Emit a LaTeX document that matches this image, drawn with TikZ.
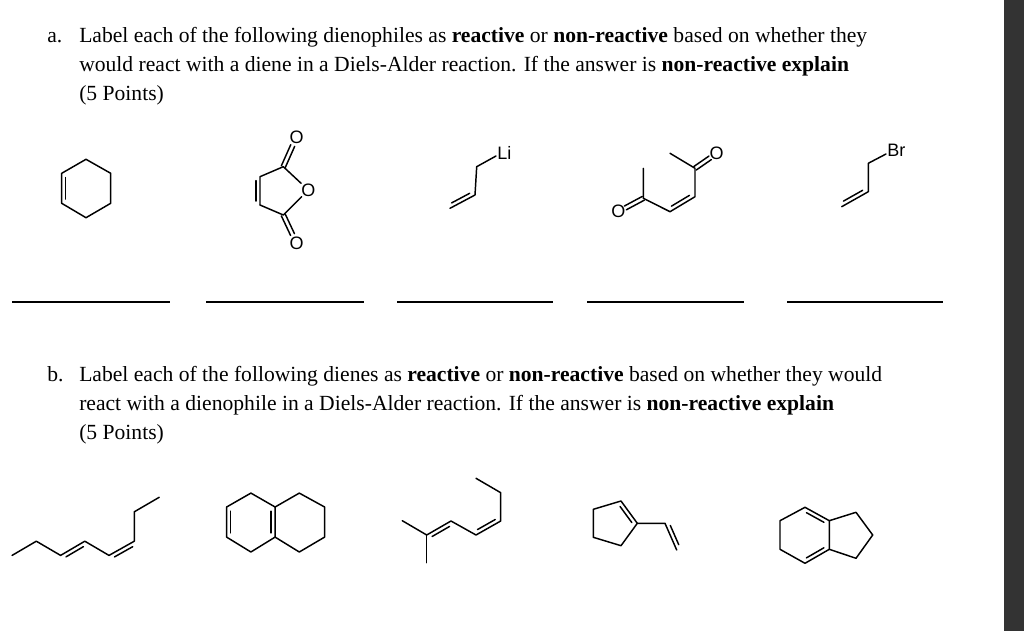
\documentclass[tikz,border=0pt]{standalone}
\usepackage{fontspec}
\setmainfont{Liberation Serif}
\newfontfamily\molfont{Liberation Sans}
\usetikzlibrary{calc}
\begin{document}
\begin{tikzpicture}[x=0.75pt,y=-0.75pt,
  bond/.style={line width=1.1pt,line cap=round,line join=round},
  para/.style={font=\fontsize{16.2pt}{21.75pt}\selectfont,anchor=base west,inner sep=0pt,align=left},
  atom/.style={font=\molfont\fontsize{13.5pt}{15pt}\selectfont,inner sep=0pt},
  blank/.style={line width=0.9pt}]
\useasboundingbox (0,0) rectangle (1024,631);
\fill[white] (0,0) rectangle (1024,631);
\fill[black!80] (1004,0) rectangle (1024,631);
\newcommand\inb[3]{\draw[bond] ($(#1)!0.14!(#2)!3pt!#3:(#2)$) -- ($(#2)!0.14!(#1)!3pt!-#3:(#1)$);}
% --- text a
\node[para] (la) at (47,43) {a.};
\node[para] (ta1) at (79,43) {Label each of the following dienophiles as \textbf{reactive} or \textbf{non-reactive} based on whether they};
\node[para] (ta2) at (79,72) {would react with a diene in a Diels-Alder reaction. If the answer is \textbf{non-reactive explain}};
\node[para] (ta3) at (79,101) {(5 Points)};
% --- cyclohexene
\coordinate (h1) at (61.7,173.3); \coordinate (h2) at (86,159.3); \coordinate (h3) at (110.7,173.3);
\coordinate (h4) at (110.7,203.3); \coordinate (h5) at (86,217.7); \coordinate (h6) at (61.7,203.3);
\draw[bond] (h1)--(h2)--(h3)--(h4)--(h5)--(h6)--cycle;
\inb{h1}{h6}{90}
% --- maleic anhydride
\coordinate (m1) at (283.3,166.7); \coordinate (mo) at (308.3,190); \coordinate (m2) at (283.3,215);
\coordinate (ma) at (260,176.7); \coordinate (mb) at (260,205);
\coordinate (mot) at (296.5,137); \coordinate (mob) at (296.5,243);
\node[atom] (Oring) at (mo) {O};
\node[atom] (Otop) at (mot) {O};
\node[atom] (Obot) at (mob) {O};
\draw[bond] (mb)--(ma)--(m1);
\draw[bond] (m1)--(Oring); \draw[bond] (Oring)--(m2)--(mb);
\inb{ma}{mb}{-90}
\draw[bond,shorten >=7pt] ($(m1)!1.6pt!90:(mot)$) -- ($(mot)!1.6pt!-90:(m1)$);
\draw[bond,shorten >=7pt] ($(m1)!1.6pt!-90:(mot)$) -- ($(mot)!1.6pt!90:(m1)$);
\draw[bond,shorten >=7pt] ($(m2)!1.6pt!90:(mob)$) -- ($(mob)!1.6pt!-90:(m2)$);
\draw[bond,shorten >=7pt] ($(m2)!1.6pt!-90:(mob)$) -- ($(mob)!1.6pt!90:(m2)$);
% --- allyl lithium
\coordinate (l1) at (450,208.3); \coordinate (l2) at (475,195); \coordinate (l3) at (476.7,166.7); \coordinate (l4) at (496,156);
\node[atom,anchor=west] (Li) at (497,153) {Li};
\draw[bond] (l1)--(l2)--(l3)--(l4);
\inb{l1}{l2}{90}
% --- enedione
\coordinate (e0) at (618.3,211.7); \coordinate (e1) at (643.3,198.3); \coordinate (e1m) at (643.3,168.3);
\coordinate (e2) at (670,211.7); \coordinate (e3) at (695,196.7); \coordinate (e4) at (695,168.3);
\coordinate (e4m) at (670,153.3); \coordinate (e5) at (716.7,153.3);
\node[atom] (OL) at (e0) {O}; \node[atom] (OR) at (e5) {O};
\draw[bond] (e1m)--(e1)--(e2)--(e3)--(e4)--(e4m);
\inb{e2}{e3}{90}
\draw[bond,shorten >=6pt] ($(e1)!1.6pt!90:(e0)$) -- ($(e0)!1.6pt!-90:(e1)$);
\draw[bond,shorten >=6pt] ($(e1)!1.6pt!-90:(e0)$) -- ($(e0)!1.6pt!90:(e1)$);
\draw[bond,shorten >=6pt] ($(e4)!1.6pt!90:(e5)$) -- ($(e5)!1.6pt!-90:(e4)$);
\draw[bond,shorten >=6pt] ($(e4)!1.6pt!-90:(e5)$) -- ($(e5)!1.6pt!90:(e4)$);
% --- allyl bromide
\coordinate (b1) at (841.7,206.7); \coordinate (b2) at (868.3,191.7); \coordinate (b3) at (868.3,163.3); \coordinate (b4) at (886,154);
\node[atom,anchor=west] (Br) at (887,150) {Br};
\draw[bond] (b1)--(b2)--(b3)--(b4);
\inb{b1}{b2}{90}
% --- blanks
\foreach \a/\b [count=\i] in {12/170,206/364,397/553,587/744,787/943}{
  \coordinate (bl\i a) at (\a,302); \coordinate (bl\i b) at (\b,302);
  \draw[blank] (bl\i a) -- (bl\i b);}
% --- text b
\node[para] (lb) at (47,381) {b.};
\node[para] (tb1) at (79,381) {Label each of the following dienes as \textbf{reactive} or \textbf{non-reactive} based on whether they would};
\node[para] (tb2) at (79,410) {react with a dienophile in a Diels-Alder reaction. If the answer is \textbf{non-reactive explain}};
\node[para] (tb3) at (79,439) {(5 Points)};
% --- octadiene
\coordinate (o1) at (12.1,555.4); \coordinate (o2) at (36.3,541.2); \coordinate (o3) at (60.6,555.4);
\coordinate (o4) at (84.8,541.2); \coordinate (o5) at (109,555.4); \coordinate (o6) at (134.3,541.2);
\coordinate (o7) at (134.3,511.8); \coordinate (o8) at (159.2,497.3);
\draw[bond] (o1)--(o2)--(o3)--(o4)--(o5)--(o6)--(o7)--(o8);
\inb{o3}{o4}{-90} \inb{o5}{o6}{-90}
% --- hexahydronaphthalene
\coordinate (n1) at (226.6,507); \coordinate (n2) at (250.9,493.1); \coordinate (n3) at (275.1,507);
\coordinate (n4) at (275.1,537.1); \coordinate (n5) at (250.9,552); \coordinate (n6) at (226.6,537.1);
\coordinate (n7) at (299.3,493.1); \coordinate (n8) at (324.6,507); \coordinate (n9) at (324.6,537.1); \coordinate (n10) at (299.3,552);
\draw[bond] (n1)--(n2)--(n3)--(n4)--(n5)--(n6)--cycle;
\draw[bond] (n3)--(n7)--(n8)--(n9)--(n10)--(n4);
\inb{n1}{n6}{90} \inb{n3}{n4}{-90}
% --- methylheptadiene
\coordinate (p1) at (402.3,520.7); \coordinate (p2) at (426.7,535); \coordinate (p2m) at (426.7,562.7);
\coordinate (p3) at (451,521); \coordinate (p4) at (476,535); \coordinate (p5) at (500.7,521);
\coordinate (p6) at (500.7,492.7); \coordinate (p7) at (476,478.3);
\draw[bond] (p1)--(p2)--(p3)--(p4)--(p5)--(p6)--(p7); \draw[bond] (p2)--(p2m);
\inb{p2}{p3}{-90} \inb{p4}{p5}{90}
% --- vinylcyclopentene
\coordinate (c1) at (621,501); \coordinate (c2) at (637.3,523.3); \coordinate (c3) at (621,545.7);
\coordinate (c4) at (593.3,537.3); \coordinate (c5) at (593.3,509.3);
\coordinate (v1) at (665,523.3); \coordinate (v2) at (676.7,550);
\draw[bond] (c1)--(c2)--(c3)--(c4)--(c5)--cycle;
\draw[bond] (c2)--(v1)--(v2);
\inb{c1}{c2}{-90} \inb{v1}{v2}{90}
% --- tetrahydroindene
\coordinate (i1) at (805,507.3); \coordinate (i2) at (829.3,520.7); \coordinate (i3) at (829.3,549.3);
\coordinate (i4) at (805,563.3); \coordinate (i5) at (780,549.3); \coordinate (i6) at (780,520.7);
\coordinate (i7) at (856,512.3); \coordinate (i8) at (872.7,535); \coordinate (i9) at (856,558.3);
\draw[bond] (i1)--(i2)--(i3)--(i4)--(i5)--(i6)--cycle;
\draw[bond] (i2)--(i7)--(i8)--(i9)--(i3);
\inb{i1}{i2}{-90} \inb{i3}{i4}{-90}
\end{tikzpicture}
\end{document}
